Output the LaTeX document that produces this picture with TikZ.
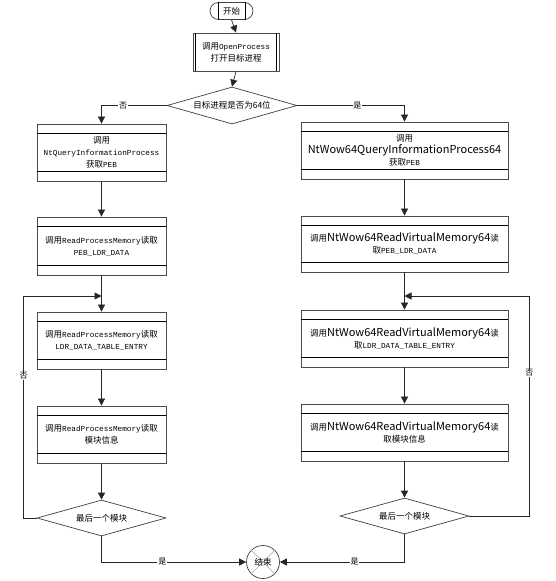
\documentclass[tikz,border=0pt]{standalone}
\usepackage{fontspec}
\setmainfont{Noto Sans CJK SC}
\setmonofont{Liberation Mono}
\usetikzlibrary{shapes.geometric,shapes.misc,arrows.meta}
\newcommand{\mn}[1]{{\ttfamily\fontsize{7.7}{9}\selectfont #1}}
\newcommand{\bigtxt}[1]{{\fontsize{11}{12}\selectfont #1}}
\tikzset{
  base/.style={font=\fontsize{8.5}{12}\selectfont, text=black, align=center},
  box/.style={base, draw=black!70, line width=0.8pt, minimum width=#1, inner sep=0pt},
  proc/.style={base, draw=black!70, line width=0.8pt, minimum width=86pt, minimum height=38pt, inner sep=0pt},
  dec/.style={base, draw=black!75, line width=0.7pt, diamond, shape aspect=3.5, minimum width=#1, inner sep=0pt},
  conn/.style={draw=black!85, line width=0.7pt},
  arr/.style={conn, -{Triangle[length=7pt,width=7pt]}},
  lbl/.style={fill=white, inner sep=0.8pt, font=\fontsize{8}{9}\selectfont},
  inl/.style={draw=black, line width=0.7pt}
}
\begin{document}
\begin{tikzpicture}[x=1pt,y=-1pt]
\useasboundingbox[fill=white] (0,0) rectangle (555,581);
% start
\node[base, rounded rectangle, draw=black!75, line width=0.7pt, minimum width=43pt, minimum height=17pt, inner sep=0pt] (start) at (231.5,11) {开始};
\draw[inl] ([xshift=-13.5pt]start.north) -- ([xshift=-13.5pt]start.south);
\draw[inl] ([xshift=13.5pt]start.north) -- ([xshift=13.5pt]start.south);
% open process
\node[proc] (op) at (236,52) {调用\mn{OpenProcess}\\打开目标进程};
\draw[inl] ([xshift=3pt]op.north west) -- ([xshift=3pt]op.south west);
\draw[inl] ([xshift=-3pt]op.north east) -- ([xshift=-3pt]op.south east);
% decision
\node[dec=130pt, minimum height=37pt] (d1) at (232,105.5) {目标进程是否为64位};
% left column
\node[box=129pt, minimum height=57pt] (l1) at (101.5,152.5) {调用\\\mn{NtQueryInformationProcess}\\获取\mn{PEB}};
\node[box=129pt, minimum height=58pt] (l2) at (101.5,246) {调用\mn{ReadProcessMemory}读取\\\mn{PEB\_LDR\_DATA}};
\node[box=129pt, minimum height=57pt] (l3) at (101.5,340.5) {调用\mn{ReadProcessMemory}读取\\\mn{LDR\_DATA\_TABLE\_ENTRY}};
\node[box=129pt, minimum height=57pt] (l4) at (101.5,434.5) {调用\mn{ReadProcessMemory}读取\\模块信息};
\node[dec=129pt, minimum height=36pt] (ld) at (101.5,518) {最后一个模块};
% right column
\node[box=207pt, minimum height=57pt] (r1) at (404.5,150.5) {调用\\\bigtxt{NtWow64QueryInformationProcess64}\\获取\mn{PEB}};
\node[box=207pt, minimum height=56pt] (r2) at (404.5,244) {调用\bigtxt{NtWow64ReadVirtualMemory64}读\\取\mn{PEB\_LDR\_DATA}};
\node[box=207pt, minimum height=57pt] (r3) at (404.5,338.5) {调用\bigtxt{NtWow64ReadVirtualMemory64}读\\取\mn{LDR\_DATA\_TABLE\_ENTRY}};
\node[box=207pt, minimum height=57pt] (r4) at (404.5,432.5) {调用\bigtxt{NtWow64ReadVirtualMemory64}读\\取模块信息};
\node[dec=129pt, minimum height=36pt] (rd) at (404.5,516) {最后一个模块};
% inner lines of boxes
\foreach \b in {l1,l2,l3,l4,r1,r2,r3,r4}{
  \draw[inl] ([yshift=-10pt]\b.north west) -- ([yshift=-10pt]\b.north east);
  \draw[inl] ([yshift=10pt]\b.south west) -- ([yshift=10pt]\b.south east);
}
% end
\node[circle, draw=black!75, line width=0.7pt, minimum size=33pt, inner sep=0pt] (end) at (263,562) {};
\draw[black!35, line width=0.6pt] (end.north west) -- (end.south east);
\draw[black!35, line width=0.6pt] (end.north east) -- (end.south west);
\node[base] (endtxt) at (end.center) {结束};
% joins
\coordinate (lj) at (101.5,296);
\coordinate (rj) at (404.5,296);
% connectors
\draw[arr] (start.south) -- (op.north);
\draw[arr] (op.south) -- (d1.north);
\draw[arr] (d1.west) -| node[lbl, pos=0.335] {否} (l1.north);
\draw[arr] (d1.east) -| node[lbl, pos=0.28] {是} (r1.north);
\draw[arr] (l1.south) -- (l2.north);
\draw[arr] (l2.south) -- (l3.north);
\draw[arr] (l3.south) -- (l4.north);
\draw[arr] (l4.south) -- (ld.north);
\draw[arr] (r1.south) -- (r2.north);
\draw[arr] (r2.south) -- (r3.north);
\draw[arr] (r3.south) -- (r4.north);
\draw[arr] (r4.south) -- (rd.north);
\draw[arr] (ld.west) -- ++(-13,0) |- node[lbl, pos=0.32] {否} (lj);
\draw[arr] (rd.east) -- ++(60,0) |- node[lbl, pos=0.325] {否} (rj);
\draw[arr] (ld.south) |- node[lbl, pos=0.71] {是} (end.west);
\draw[arr] (rd.south) |- node[lbl, pos=0.7] {是} (end.east);
\end{tikzpicture}
\end{document}
